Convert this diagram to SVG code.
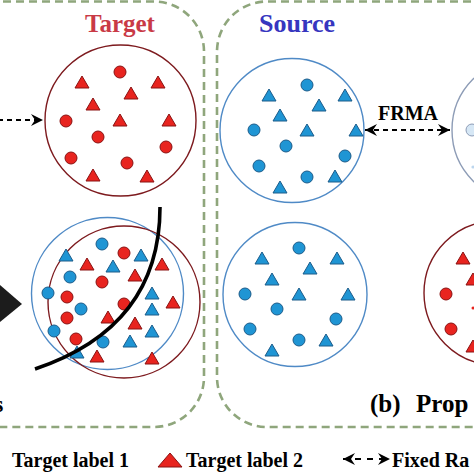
<svg xmlns="http://www.w3.org/2000/svg" xmlns:xlink="http://www.w3.org/1999/xlink" width="474" height="474" viewBox="0 0 474 474">
<style>
.panel{fill:none;stroke:#8fa67c;stroke-width:2.6;stroke-dasharray:8 5}
.rc{fill:none;stroke:#7d1a1e;stroke-width:1.4}
.bc{fill:none;stroke:#4f8ac6;stroke-width:1.4}
.gc{fill:none;stroke:#8d9cb6;stroke-width:1.4}
.r{fill:#e8241f;stroke:#8a1212;stroke-width:1}
.b{fill:#1f95d4;stroke:#1c5c8a;stroke-width:1}
.t{font-family:"Liberation Serif","Times New Roman",serif;font-weight:bold}
.arr{fill:none;stroke:#000;stroke-width:2;stroke-dasharray:5 4}
</style>
<defs>
<path id="tri" d="M0,-7 L7,5 L-7,5 Z"/>
<marker id="ah" viewBox="0 0 12 12" refX="12" refY="6" markerWidth="12" markerHeight="12" markerUnits="userSpaceOnUse" orient="auto-start-reverse">
<path d="M0,0 L12,6 L0,12 L4,6 Z" fill="#000"/>
</marker>
</defs>
<rect width="474" height="474" fill="#fff"/>
<g id="panels">
<path class="panel" d="M-10,1.5 H154 A50,50 0 0 1 204,52 V377 A50,50 0 0 1 154,427 H-10"/>
<path class="panel" d="M484,1.5 H267 A50,50 0 0 0 217,52 V377 A50,50 0 0 0 267,427 H484"/>
</g>
<g id="titles">
<text class="t" x="120" y="32" font-size="25" fill="#c93a46" text-anchor="middle">Target</text>
<text class="t" x="259" y="32" font-size="26" fill="#3636bf">Source</text>
<text class="t" x="-6" y="412" font-size="24" fill="#000">s</text>
<text class="t" x="370" y="412" font-size="25" fill="#000">(b)</text>
<text class="t" x="416" y="412" font-size="25" fill="#000">Prop</text>
</g>
<g id="target-top">
<circle class="rc" cx="120.5" cy="120.5" r="75.5"/>
<g class="r">
<circle cx="120" cy="72" r="6"/><circle cx="66" cy="121" r="6"/><circle cx="98" cy="137" r="6"/>
<circle cx="166" cy="147" r="6"/><circle cx="71" cy="158" r="6"/><circle cx="127" cy="163" r="6"/>
<use xlink:href="#tri" x="82" y="83"/><use xlink:href="#tri" x="158" y="83"/><use xlink:href="#tri" x="131" y="94"/>
<use xlink:href="#tri" x="93" y="105"/><use xlink:href="#tri" x="120" y="121"/><use xlink:href="#tri" x="169" y="121"/>
<use xlink:href="#tri" x="93" y="176"/><use xlink:href="#tri" x="147" y="177"/>
</g>
</g>
<g id="source-top">
<circle class="bc" cx="292" cy="130.5" r="72"/>
<g class="b">
<circle cx="307" cy="85" r="6"/><circle cx="254" cy="130" r="6"/><circle cx="286" cy="146" r="6"/>
<circle cx="345" cy="156" r="6"/><circle cx="259" cy="166" r="6"/><circle cx="307" cy="177" r="6"/>
<use xlink:href="#tri" x="269" y="96"/><use xlink:href="#tri" x="345" y="96"/><use xlink:href="#tri" x="319" y="106"/>
<use xlink:href="#tri" x="280" y="116"/><use xlink:href="#tri" x="307" y="131"/><use xlink:href="#tri" x="356" y="131"/>
<use xlink:href="#tri" x="280" y="188"/><use xlink:href="#tri" x="335" y="177"/>
</g>
</g>
<g id="right-top">
<circle class="gc" cx="524" cy="130" r="72"/>
<circle cx="472" cy="130" r="6" fill="#d6e7f5" stroke="#8d9cb6" stroke-width="1"/>
<circle cx="473" cy="167" r="1.6" fill="#bcd6ee"/>
</g>
<g id="mixed">
<circle class="bc" cx="107.5" cy="293.5" r="76"/>
<circle class="rc" cx="124" cy="302" r="76"/>
<g class="b">
<circle cx="102" cy="244" r="6"/><circle cx="70" cy="277" r="6"/><circle cx="48" cy="293" r="6"/>
<circle cx="81" cy="309" r="6"/><circle cx="54" cy="331" r="6"/><circle cx="103" cy="342" r="6"/>
<use xlink:href="#tri" x="66" y="256"/><use xlink:href="#tri" x="141" y="256"/><use xlink:href="#tri" x="113" y="267"/>
<use xlink:href="#tri" x="152" y="294"/><use xlink:href="#tri" x="152" y="310"/><use xlink:href="#tri" x="152" y="332"/>
<use xlink:href="#tri" x="130" y="342"/><use xlink:href="#tri" x="77" y="353"/>
</g>
<g class="r">
<circle cx="124" cy="253" r="6"/><circle cx="102" cy="282" r="6"/><circle cx="67" cy="297" r="6"/>
<circle cx="124" cy="304" r="6"/><circle cx="67" cy="318" r="6"/><circle cx="76" cy="339" r="6"/>
<use xlink:href="#tri" x="87" y="265"/><use xlink:href="#tri" x="162" y="265"/><use xlink:href="#tri" x="135" y="276"/>
<use xlink:href="#tri" x="173" y="303"/><use xlink:href="#tri" x="108" y="318"/><use xlink:href="#tri" x="135" y="324"/>
<use xlink:href="#tri" x="97" y="357"/><use xlink:href="#tri" x="152" y="359"/>
</g>
<path d="M35,369 Q160,327 160,207" fill="none" stroke="#000" stroke-width="3.6"/>
</g>
<g id="source-bottom">
<circle class="bc" cx="295" cy="294.5" r="72"/>
<g class="b">
<circle cx="299" cy="248" r="6"/><circle cx="245" cy="294" r="6"/><circle cx="277" cy="309" r="6"/>
<circle cx="336" cy="319" r="6"/><circle cx="250" cy="329" r="6"/><circle cx="299" cy="340" r="6"/>
<use xlink:href="#tri" x="262" y="259"/><use xlink:href="#tri" x="337" y="259"/><use xlink:href="#tri" x="310" y="269"/>
<use xlink:href="#tri" x="272" y="280"/><use xlink:href="#tri" x="299" y="295"/><use xlink:href="#tri" x="348" y="295"/>
<use xlink:href="#tri" x="272" y="351"/><use xlink:href="#tri" x="326" y="341"/>
</g>
</g>
<g id="right-bottom">
<circle class="rc" cx="496" cy="293" r="72"/>
<g class="r">
<circle cx="446" cy="294" r="6"/><circle cx="451" cy="329" r="6"/>
<use xlink:href="#tri" x="463" y="259"/><use xlink:href="#tri" x="473" y="280"/><use xlink:href="#tri" x="473" y="347"/>
</g>
<circle cx="473" cy="308" r="1.5" fill="#e8241f"/>
</g>
<g id="connectors">
<path d="M0,304 L0,285 L22,304 L0,322 Z" fill="#1c1c1c"/>
<path class="arr" d="M-2,120 L43,120" marker-end="url(#ah)"/>
<path class="arr" d="M365,130 L450,130" marker-start="url(#ah)" marker-end="url(#ah)"/>
<text class="t" x="408" y="120" font-size="20" fill="#000" text-anchor="middle">FRMA</text>
</g>
<g id="legend">
<text class="t" x="12" y="467" font-size="20" fill="#000">Target label 1</text>
<path d="M158,467 L182,467 L170,453 Z" class="r"/>
<text class="t" x="186" y="467" font-size="20" fill="#000">Target label 2</text>
<path d="M343,459 L390,459" fill="none" stroke="#000" stroke-width="2" stroke-dasharray="6 6" marker-start="url(#ah)" marker-end="url(#ah)"/>
<text class="t" x="392" y="467" font-size="20" fill="#000">Fixed Ra</text>
</g>
</svg>
